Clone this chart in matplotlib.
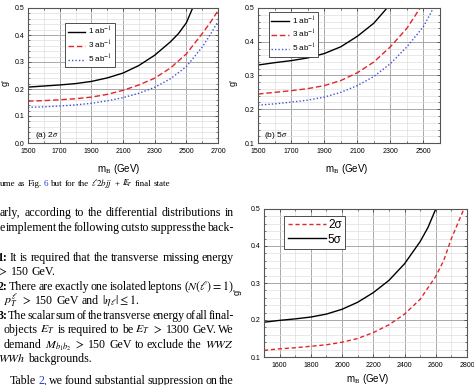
import matplotlib
matplotlib.use('Agg')
import matplotlib.pyplot as plt
from matplotlib.ticker import MultipleLocator, FormatStrFormatter
from matplotlib.transforms import IdentityTransform

plt.rcParams['font.family'] = 'Liberation Sans'
plt.rcParams['mathtext.fontset'] = 'stix'

W, H = 474, 385

# panel (a) 2 sigma
a_x1 = [1500, 1600, 1700, 1800, 1900, 2000, 2100, 2200, 2300, 2400, 2450, 2500, 2540]
a_y1 = [0.207, 0.211, 0.215, 0.220, 0.228, 0.241, 0.259, 0.287, 0.325, 0.375, 0.405, 0.445, 0.5]
a_x3 = [1500, 1600, 1700, 1800, 1900, 2000, 2100, 2200, 2300, 2400, 2500, 2600, 2650, 2700]
a_y3 = [0.155, 0.157, 0.160, 0.164, 0.170, 0.180, 0.195, 0.215, 0.240, 0.278, 0.330, 0.405, 0.445, 0.49]
a_x5 = [1500, 1600, 1700, 1800, 1900, 2000, 2100, 2200, 2300, 2400, 2500, 2600, 2650, 2700]
a_y5 = [0.132, 0.134, 0.137, 0.141, 0.147, 0.156, 0.168, 0.184, 0.206, 0.238, 0.283, 0.355, 0.400, 0.45]

# panel (b) 5 sigma
b_x1 = [1500, 1600, 1700, 1800, 1900, 2000, 2100, 2200, 2280]
b_y1 = [0.331, 0.338, 0.344, 0.352, 0.365, 0.385, 0.416, 0.455, 0.5]
b_x3 = [1500, 1600, 1700, 1800, 1900, 2000, 2100, 2200, 2300, 2400, 2480]
b_y3 = [0.245, 0.250, 0.255, 0.261, 0.270, 0.285, 0.308, 0.340, 0.385, 0.44, 0.5]
b_x5 = [1500, 1600, 1700, 1800, 1900, 2000, 2100, 2200, 2300, 2400, 2500, 2560]
b_y5 = [0.212, 0.216, 0.221, 0.227, 0.236, 0.250, 0.270, 0.297, 0.335, 0.385, 0.445, 0.5]

# bottom panel
c_x2 = [1500, 1600, 1700, 1800, 1900, 2000, 2100, 2200, 2300, 2400, 2500, 2600, 2650, 2700, 2750, 2780]
c_y2 = [0.118, 0.122, 0.125, 0.129, 0.133, 0.140, 0.150, 0.166, 0.187, 0.216, 0.256, 0.318, 0.36, 0.42, 0.47, 0.5]
c_x5 = [1500, 1600, 1700, 1800, 1900, 2000, 2100, 2200, 2300, 2400, 2500, 2550, 2600]
c_y5 = [0.194, 0.199, 0.203, 0.208, 0.216, 0.229, 0.248, 0.274, 0.307, 0.352, 0.412, 0.45, 0.5]

caption = r"ume as Fig. ~6 but for the $\ell2bjj$ + $E\!\!\!/_T$ final state"
# (y px, text, justified, x start)
para = [
    (216, "arly, according to the differential distributions in", True, 0),
    (231, "e implement the following cuts to suppress the back-", True, 0),
    (261, "*1: It is required that the transverse missing energy", True, -3),
    (275, r"$>$ 150 GeV.", False, -3),
    (290, r"*2: There are exactly one isolated leptons ($N(\ell)=1$)", True, -3),
    (304, r"$p_T^\ell$ $>$ 150 GeV and $|\eta_\ell|\leq1$.", False, 4),
    (319, "*3: The scalar sum of the transverse energy of all final-", True, -3),
    (333, r"objects $E_T$ is required to be $E_T$ $>$ 1300 GeV. We", True, 4),
    (348, r"demand $M_{b_1b_2}$ $>$ 150 GeV to exclude the $WWZ$", True, 4),
    (362, r"$WWh$ backgrounds.", False, -2),
    (384, "Table ~2, we found substantial suppression on the", True, 10),
]

RED = '#e3242b'
BLUE = '#3f51d6'

fig = plt.figure(figsize=(W / 100, H / 100), dpi=100)


def make_axes(l, t, r, b):
    return fig.add_axes([l / W, 1 - b / H, (r - l) / W, (b - t) / H])


def style(ax, xlim, ylim, xticks, fmt):
    ax.set_xlim(*xlim)
    ax.set_ylim(*ylim)
    ax.set_xticks(xticks)
    ax.xaxis.set_minor_locator(MultipleLocator(100))
    ax.yaxis.set_major_locator(MultipleLocator(0.1))
    ax.yaxis.set_minor_locator(MultipleLocator(0.02))
    ax.yaxis.set_major_formatter(FormatStrFormatter(fmt))
    ax.grid(which='major', color='#a8a8a8', lw=0.7)
    ax.grid(which='minor', color='#dedede', lw=0.5)
    ax.set_axisbelow(True)
    ax.tick_params(which='both', direction='in', top=True, right=True,
                   labelsize=5, color='#444444')
    ax.tick_params(axis='y', pad=2.5)
    ax.tick_params(axis='x', pad=3.5)
    ax.tick_params(which='major', length=2.5, width=0.6)
    ax.tick_params(which='minor', length=1.5, width=0.5)
    for s in ax.spines.values():
        s.set_linewidth(0.8)
        s.set_color('#555555')


def labels(ax, xl, yl):
    ax.set_xlabel(r"m$_{\mathrm{B}}$ (GeV)", fontsize=7)
    ax.xaxis.set_label_coords(*xl)
    ax.set_ylabel("g'", fontsize=6.5)
    ax.yaxis.set_label_coords(*yl)


def legend(ax, anchor, size, hl, spacing=0.2, tpad=0.4):
    lg = ax.legend(loc='upper left', bbox_to_anchor=anchor, fontsize=size,
                   handlelength=hl, handletextpad=tpad, borderpad=0.3,
                   labelspacing=spacing, frameon=True, fancybox=False,
                   framealpha=1, edgecolor='#333333', borderaxespad=0)
    lg.get_frame().set_linewidth(0.6)


# (a)
ax1 = make_axes(28, 8, 218, 143)
style(ax1, (1500, 2700), (0, 0.5), list(range(1500, 2701, 200)), '%.1f')
ax1.plot(a_x1, a_y1, color='black', lw=1, label='1 ab$^{-1}$')
ax1.plot(a_x3, a_y3, color=RED, lw=1, dashes=(4, 2), label='3 ab$^{-1}$')
ax1.plot(a_x5, a_y5, color=BLUE, lw=1, dashes=(1, 1.5), label='5 ab$^{-1}$')
legend(ax1, (0.195, 0.89), 5.9, 2.1)
ax1.text(0.035, 0.055, r"(a) 2$\sigma$", transform=ax1.transAxes, fontsize=6, va='center')
labels(ax1, (0.48, -0.14), (-0.095, 0.45))

# (b)
ax2 = make_axes(258, 8, 440, 143)
style(ax2, (1500, 2600), (0.1, 0.5), list(range(1500, 2501, 200)), '%.1f')
ax2.plot(b_x1, b_y1, color='black', lw=1, label='1 ab$^{-1}$')
ax2.plot(b_x3, b_y3, color=RED, lw=1, dashes=(4, 2), label='3 ab$^{-1}$')
ax2.plot(b_x5, b_y5, color=BLUE, lw=1, dashes=(1, 1.5), label='5 ab$^{-1}$')
legend(ax2, (0.06, 0.97), 5.9, 2.1)
ax2.text(0.035, 0.055, r"(b) 5$\sigma$", transform=ax2.transAxes, fontsize=6, va='center')
labels(ax2, (0.49, -0.14), (-0.11, 0.45))

# bottom
ax3 = make_axes(264, 209, 467, 357)
style(ax3, (1500, 2800), (0.1, 0.5), list(range(1600, 2801, 200)), '%.1f')
ax3.plot(c_x2, c_y2, color=RED, lw=1, dashes=(3, 2), label='2σ')
ax3.plot(c_x5, c_y5, color='black', lw=1, label='5σ')
legend(ax3, (0.10, 0.955), 8.5, 3.2, spacing=0.2, tpad=0.2)
labels(ax3, (0.51, -0.10), (-0.11, 0.44))

renderer = fig.canvas.get_renderer()


def put_line(y, text, justify, x0, size, x1=234):
    objs = []
    for w in text.split(' '):
        kw = {}
        if w.startswith('*'):
            w = w[1:]
            kw['weight'] = 'bold'
        if w.startswith('~'):
            w = w[1:]
            kw['color'] = '#2b3bd1'
        t = fig.text(0, 0, w, fontsize=size, family='Liberation Serif',
                     va='baseline', ha='left', transform=IdentityTransform(), **kw)
        objs.append(t)
    widths = [t.get_window_extent(renderer).width for t in objs]
    if justify and len(objs) > 1:
        gap = (x1 - x0 - sum(widths)) / (len(objs) - 1)
    else:
        gap = size * 100 / 72 * 0.25
    x = x0
    for t, w in zip(objs, widths):
        t.set_position((x, H - y))
        x += w + gap


put_line(186, caption, False, 0, 6.5)
for y, text, just, x0 in para:
    put_line(y, text, just, x0, 8.6)

fig.savefig('out.png', dpi=100)
